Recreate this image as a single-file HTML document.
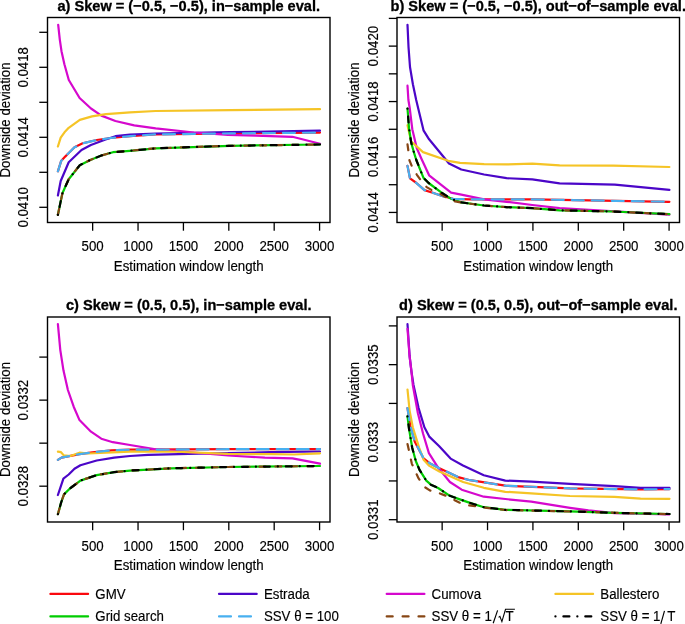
<!DOCTYPE html>
<html><head><meta charset="utf-8"><style>html,body{margin:0;padding:0;background:#fff;}svg{display:block;font-family:"Liberation Sans", sans-serif;will-change:transform;}</style></head>
<body><svg width="685" height="624" viewBox="0 0 685 624"><style>text{stroke:#000;stroke-width:0.15px;}</style>
<rect width="685" height="624" fill="#fff"/>
<rect x="47.5" y="17.5" width="282.5" height="205.0" fill="none" stroke="#000" stroke-width="1.4"/>
<line x1="92.65" y1="222.5" x2="92.65" y2="230.7" stroke="#000" stroke-width="1.3"/>
<text transform="translate(92.65,251.0) scale(1,1.04)" font-size="13.3" text-anchor="middle">500</text>
<line x1="138.04" y1="222.5" x2="138.04" y2="230.7" stroke="#000" stroke-width="1.3"/>
<text transform="translate(138.04,251.0) scale(1,1.04)" font-size="13.3" text-anchor="middle">1000</text>
<line x1="183.42" y1="222.5" x2="183.42" y2="230.7" stroke="#000" stroke-width="1.3"/>
<text transform="translate(183.42,251.0) scale(1,1.04)" font-size="13.3" text-anchor="middle">1500</text>
<line x1="228.81" y1="222.5" x2="228.81" y2="230.7" stroke="#000" stroke-width="1.3"/>
<text transform="translate(228.81,251.0) scale(1,1.04)" font-size="13.3" text-anchor="middle">2000</text>
<line x1="274.19" y1="222.5" x2="274.19" y2="230.7" stroke="#000" stroke-width="1.3"/>
<text transform="translate(274.19,251.0) scale(1,1.04)" font-size="13.3" text-anchor="middle">2500</text>
<line x1="319.58" y1="222.5" x2="319.58" y2="230.7" stroke="#000" stroke-width="1.3"/>
<text transform="translate(319.58,251.0) scale(1,1.04)" font-size="13.3" text-anchor="middle">3000</text>
<text transform="translate(188.75,270.6) scale(1,1.04)" font-size="13.3" text-anchor="middle">Estimation window length</text>
<line x1="39.3" y1="32.30" x2="47.5" y2="32.30" stroke="#000" stroke-width="1.3"/>
<line x1="39.3" y1="67.30" x2="47.5" y2="67.30" stroke="#000" stroke-width="1.3"/>
<text transform="translate(28.30,67.30) rotate(-90) scale(1,1.04)" font-size="13.3" text-anchor="middle">0.0418</text>
<line x1="39.3" y1="102.30" x2="47.5" y2="102.30" stroke="#000" stroke-width="1.3"/>
<line x1="39.3" y1="137.30" x2="47.5" y2="137.30" stroke="#000" stroke-width="1.3"/>
<text transform="translate(28.30,137.30) rotate(-90) scale(1,1.04)" font-size="13.3" text-anchor="middle">0.0414</text>
<line x1="39.3" y1="172.30" x2="47.5" y2="172.30" stroke="#000" stroke-width="1.3"/>
<line x1="39.3" y1="207.30" x2="47.5" y2="207.30" stroke="#000" stroke-width="1.3"/>
<text transform="translate(28.30,207.30) rotate(-90) scale(1,1.04)" font-size="13.3" text-anchor="middle">0.0410</text>
<text transform="translate(9.80,120.00) rotate(-90) scale(1,1.04)" font-size="13.3" text-anchor="middle">Downside deviation</text>
<text transform="translate(188.75,10.70) scale(1,1.04)" font-size="14.6" font-weight="bold" style="stroke-width:0.3px" text-anchor="middle">a) Skew = (−0.5, −0.5), in−sample eval.</text>
<rect x="397.0" y="17.5" width="282.5" height="205.0" fill="none" stroke="#000" stroke-width="1.4"/>
<line x1="442.15" y1="222.5" x2="442.15" y2="230.7" stroke="#000" stroke-width="1.3"/>
<text transform="translate(442.15,251.0) scale(1,1.04)" font-size="13.3" text-anchor="middle">500</text>
<line x1="487.53" y1="222.5" x2="487.53" y2="230.7" stroke="#000" stroke-width="1.3"/>
<text transform="translate(487.53,251.0) scale(1,1.04)" font-size="13.3" text-anchor="middle">1000</text>
<line x1="532.92" y1="222.5" x2="532.92" y2="230.7" stroke="#000" stroke-width="1.3"/>
<text transform="translate(532.92,251.0) scale(1,1.04)" font-size="13.3" text-anchor="middle">1500</text>
<line x1="578.30" y1="222.5" x2="578.30" y2="230.7" stroke="#000" stroke-width="1.3"/>
<text transform="translate(578.30,251.0) scale(1,1.04)" font-size="13.3" text-anchor="middle">2000</text>
<line x1="623.69" y1="222.5" x2="623.69" y2="230.7" stroke="#000" stroke-width="1.3"/>
<text transform="translate(623.69,251.0) scale(1,1.04)" font-size="13.3" text-anchor="middle">2500</text>
<line x1="669.08" y1="222.5" x2="669.08" y2="230.7" stroke="#000" stroke-width="1.3"/>
<text transform="translate(669.08,251.0) scale(1,1.04)" font-size="13.3" text-anchor="middle">3000</text>
<text transform="translate(538.25,270.6) scale(1,1.04)" font-size="13.3" text-anchor="middle">Estimation window length</text>
<line x1="388.8" y1="18.40" x2="397.0" y2="18.40" stroke="#000" stroke-width="1.3"/>
<line x1="388.8" y1="46.12" x2="397.0" y2="46.12" stroke="#000" stroke-width="1.3"/>
<text transform="translate(377.80,46.12) rotate(-90) scale(1,1.04)" font-size="13.3" text-anchor="middle">0.0420</text>
<line x1="388.8" y1="73.84" x2="397.0" y2="73.84" stroke="#000" stroke-width="1.3"/>
<line x1="388.8" y1="101.56" x2="397.0" y2="101.56" stroke="#000" stroke-width="1.3"/>
<text transform="translate(377.80,101.56) rotate(-90) scale(1,1.04)" font-size="13.3" text-anchor="middle">0.0418</text>
<line x1="388.8" y1="129.28" x2="397.0" y2="129.28" stroke="#000" stroke-width="1.3"/>
<line x1="388.8" y1="157.00" x2="397.0" y2="157.00" stroke="#000" stroke-width="1.3"/>
<text transform="translate(377.80,157.00) rotate(-90) scale(1,1.04)" font-size="13.3" text-anchor="middle">0.0416</text>
<line x1="388.8" y1="184.72" x2="397.0" y2="184.72" stroke="#000" stroke-width="1.3"/>
<line x1="388.8" y1="212.44" x2="397.0" y2="212.44" stroke="#000" stroke-width="1.3"/>
<text transform="translate(377.80,212.44) rotate(-90) scale(1,1.04)" font-size="13.3" text-anchor="middle">0.0414</text>
<text transform="translate(359.30,120.00) rotate(-90) scale(1,1.04)" font-size="13.3" text-anchor="middle">Downside deviation</text>
<text transform="translate(538.25,10.70) scale(1,1.04)" font-size="14.6" font-weight="bold" style="stroke-width:0.3px" text-anchor="middle">b) Skew = (−0.5, −0.5), out−of−sample eval.</text>
<rect x="47.5" y="317.0" width="282.5" height="205.0" fill="none" stroke="#000" stroke-width="1.4"/>
<line x1="92.65" y1="522.0" x2="92.65" y2="530.2" stroke="#000" stroke-width="1.3"/>
<text transform="translate(92.65,550.5) scale(1,1.04)" font-size="13.3" text-anchor="middle">500</text>
<line x1="138.04" y1="522.0" x2="138.04" y2="530.2" stroke="#000" stroke-width="1.3"/>
<text transform="translate(138.04,550.5) scale(1,1.04)" font-size="13.3" text-anchor="middle">1000</text>
<line x1="183.42" y1="522.0" x2="183.42" y2="530.2" stroke="#000" stroke-width="1.3"/>
<text transform="translate(183.42,550.5) scale(1,1.04)" font-size="13.3" text-anchor="middle">1500</text>
<line x1="228.81" y1="522.0" x2="228.81" y2="530.2" stroke="#000" stroke-width="1.3"/>
<text transform="translate(228.81,550.5) scale(1,1.04)" font-size="13.3" text-anchor="middle">2000</text>
<line x1="274.19" y1="522.0" x2="274.19" y2="530.2" stroke="#000" stroke-width="1.3"/>
<text transform="translate(274.19,550.5) scale(1,1.04)" font-size="13.3" text-anchor="middle">2500</text>
<line x1="319.58" y1="522.0" x2="319.58" y2="530.2" stroke="#000" stroke-width="1.3"/>
<text transform="translate(319.58,550.5) scale(1,1.04)" font-size="13.3" text-anchor="middle">3000</text>
<text transform="translate(188.75,570.1) scale(1,1.04)" font-size="13.3" text-anchor="middle">Estimation window length</text>
<line x1="39.3" y1="357.10" x2="47.5" y2="357.10" stroke="#000" stroke-width="1.3"/>
<line x1="39.3" y1="400.13" x2="47.5" y2="400.13" stroke="#000" stroke-width="1.3"/>
<text transform="translate(28.30,400.13) rotate(-90) scale(1,1.04)" font-size="13.3" text-anchor="middle">0.0332</text>
<line x1="39.3" y1="443.16" x2="47.5" y2="443.16" stroke="#000" stroke-width="1.3"/>
<line x1="39.3" y1="486.19" x2="47.5" y2="486.19" stroke="#000" stroke-width="1.3"/>
<text transform="translate(28.30,486.19) rotate(-90) scale(1,1.04)" font-size="13.3" text-anchor="middle">0.0328</text>
<text transform="translate(9.80,419.50) rotate(-90) scale(1,1.04)" font-size="13.3" text-anchor="middle">Downside deviation</text>
<text transform="translate(188.75,310.20) scale(1,1.04)" font-size="14.6" font-weight="bold" style="stroke-width:0.3px" text-anchor="middle">c) Skew = (0.5, 0.5), in−sample eval.</text>
<rect x="397.0" y="317.0" width="282.5" height="205.0" fill="none" stroke="#000" stroke-width="1.4"/>
<line x1="442.15" y1="522.0" x2="442.15" y2="530.2" stroke="#000" stroke-width="1.3"/>
<text transform="translate(442.15,550.5) scale(1,1.04)" font-size="13.3" text-anchor="middle">500</text>
<line x1="487.53" y1="522.0" x2="487.53" y2="530.2" stroke="#000" stroke-width="1.3"/>
<text transform="translate(487.53,550.5) scale(1,1.04)" font-size="13.3" text-anchor="middle">1000</text>
<line x1="532.92" y1="522.0" x2="532.92" y2="530.2" stroke="#000" stroke-width="1.3"/>
<text transform="translate(532.92,550.5) scale(1,1.04)" font-size="13.3" text-anchor="middle">1500</text>
<line x1="578.30" y1="522.0" x2="578.30" y2="530.2" stroke="#000" stroke-width="1.3"/>
<text transform="translate(578.30,550.5) scale(1,1.04)" font-size="13.3" text-anchor="middle">2000</text>
<line x1="623.69" y1="522.0" x2="623.69" y2="530.2" stroke="#000" stroke-width="1.3"/>
<text transform="translate(623.69,550.5) scale(1,1.04)" font-size="13.3" text-anchor="middle">2500</text>
<line x1="669.08" y1="522.0" x2="669.08" y2="530.2" stroke="#000" stroke-width="1.3"/>
<text transform="translate(669.08,550.5) scale(1,1.04)" font-size="13.3" text-anchor="middle">3000</text>
<text transform="translate(538.25,570.1) scale(1,1.04)" font-size="13.3" text-anchor="middle">Estimation window length</text>
<line x1="388.8" y1="325.90" x2="397.0" y2="325.90" stroke="#000" stroke-width="1.3"/>
<line x1="388.8" y1="364.66" x2="397.0" y2="364.66" stroke="#000" stroke-width="1.3"/>
<text transform="translate(377.80,364.66) rotate(-90) scale(1,1.04)" font-size="13.3" text-anchor="middle">0.0335</text>
<line x1="388.8" y1="403.42" x2="397.0" y2="403.42" stroke="#000" stroke-width="1.3"/>
<line x1="388.8" y1="442.18" x2="397.0" y2="442.18" stroke="#000" stroke-width="1.3"/>
<text transform="translate(377.80,442.18) rotate(-90) scale(1,1.04)" font-size="13.3" text-anchor="middle">0.0333</text>
<line x1="388.8" y1="480.94" x2="397.0" y2="480.94" stroke="#000" stroke-width="1.3"/>
<line x1="388.8" y1="519.70" x2="397.0" y2="519.70" stroke="#000" stroke-width="1.3"/>
<text transform="translate(377.80,519.70) rotate(-90) scale(1,1.04)" font-size="13.3" text-anchor="middle">0.0331</text>
<text transform="translate(359.30,419.50) rotate(-90) scale(1,1.04)" font-size="13.3" text-anchor="middle">Downside deviation</text>
<text transform="translate(538.25,310.20) scale(1,1.04)" font-size="14.6" font-weight="bold" style="stroke-width:0.3px" text-anchor="middle">d) Skew = (0.5, 0.5), out−of−sample eval.</text>
<clipPath id="clipa"><rect x="47.5" y="17.5" width="282.5" height="205.0"/></clipPath>
<polyline points="57.90,171.30 61.10,161.10 65.20,156.60 67.50,154.30 74.50,147.30 82.70,143.30 96.70,140.00 110.70,138.00 130.00,136.10 155.70,134.40 230.00,133.40 320.00,132.60" fill="none" stroke="#fa080e" stroke-width="2.2" stroke-linejoin="round" stroke-linecap="round"/>
<polyline points="57.90,195.50 60.70,181.00 68.70,162.30 81.50,150.00 90.90,145.00 104.90,139.70 115.40,136.20 130.00,134.60 155.70,133.50 230.00,132.20 320.00,130.70" fill="none" stroke="#4b06c8" stroke-width="2.2" stroke-linejoin="round" stroke-linecap="round"/>
<polyline points="58.20,24.90 59.80,39.60 61.50,51.20 64.40,64.20 68.80,80.00 79.60,98.00 91.00,108.50 101.40,115.60 115.40,121.00 134.20,125.40 155.70,128.40 194.00,132.50 228.00,134.80 255.70,135.60 292.40,136.80 320.00,143.70" fill="none" stroke="#d508cd" stroke-width="2.2" stroke-linejoin="round" stroke-linecap="round"/>
<polyline points="57.90,146.50 60.70,137.60 64.50,132.30 68.70,127.80 79.80,119.90 92.00,116.40 106.00,114.20 130.00,112.40 155.70,111.00 230.00,110.20 320.00,109.20" fill="none" stroke="#f5c426" stroke-width="2.2" stroke-linejoin="round" stroke-linecap="round"/>
<polyline points="57.90,214.80 60.70,201.40 62.50,193.00 68.70,179.20 79.80,165.20 90.30,159.90 101.40,155.50 108.40,153.50 113.00,152.20 130.00,150.80 155.70,148.30 230.00,145.80 320.00,144.50" fill="none" stroke="#00cd00" stroke-width="2.2" stroke-linejoin="round" stroke-linecap="round"/>
<polyline points="57.90,171.30 61.10,161.10 65.20,156.60 67.50,154.30 74.50,147.30 82.70,143.30 96.70,140.00 110.70,138.00 130.00,136.10 155.70,134.40 230.00,133.40 320.00,132.60" fill="none" stroke="#48b0f0" stroke-width="2.2" stroke-linejoin="round" stroke-linecap="round" stroke-dasharray="12 8"/>
<polyline points="57.90,214.80 60.70,201.40 62.50,193.00 68.70,179.20 79.80,165.20 90.30,159.90 101.40,155.50 108.40,153.50 113.00,152.20 130.00,150.80 155.70,148.30 230.00,145.80 320.00,144.50" fill="none" stroke="#874614" stroke-width="2.2" stroke-linejoin="round" stroke-linecap="round" stroke-dasharray="6 9.9"/>
<polyline points="57.90,214.80 60.70,201.40 62.50,193.00 68.70,179.20 79.80,165.20 90.30,159.90 101.40,155.50 108.40,153.50 113.00,152.20 130.00,150.80 155.70,148.30 230.00,145.80 320.00,144.50" fill="none" stroke="#000000" stroke-width="2.2" stroke-linejoin="round" stroke-linecap="round" stroke-dasharray="0.1 7.9 6 7.9"/>
<clipPath id="clipb"><rect x="397.0" y="17.5" width="282.5" height="205.0"/></clipPath>
<polyline points="407.50,165.90 410.00,178.40 415.80,182.50 424.50,190.10 432.70,192.70 442.90,196.30 453.10,198.80 470.00,199.30 532.30,199.40 589.10,200.40 669.40,201.80" fill="none" stroke="#fa080e" stroke-width="2.2" stroke-linejoin="round" stroke-linecap="round"/>
<polyline points="407.50,24.90 408.50,46.80 410.00,67.00 412.90,84.30 416.20,100.00 418.00,107.40 423.50,130.30 429.10,139.30 449.00,163.50 461.30,169.50 484.10,174.50 506.60,178.20 532.30,179.30 559.60,183.40 614.80,184.60 669.40,189.80" fill="none" stroke="#4b06c8" stroke-width="2.2" stroke-linejoin="round" stroke-linecap="round"/>
<polyline points="407.50,85.70 408.40,100.00 409.70,108.00 412.30,129.20 416.80,148.20 422.00,160.00 429.10,175.30 451.10,192.70 461.30,194.70 484.10,199.40 506.60,201.80 532.30,205.00 559.60,208.20 589.10,209.80 669.40,214.70" fill="none" stroke="#d508cd" stroke-width="2.2" stroke-linejoin="round" stroke-linecap="round"/>
<polyline points="407.50,125.20 411.20,141.50 423.00,152.10 448.20,160.80 460.00,162.80 484.10,164.10 506.60,164.40 532.30,163.60 559.60,165.40 613.20,165.70 669.40,167.00" fill="none" stroke="#f5c426" stroke-width="2.2" stroke-linejoin="round" stroke-linecap="round"/>
<polyline points="407.50,108.50 409.00,128.00 411.20,142.60 414.00,152.70 416.30,160.00 419.50,168.00 423.50,177.90 428.60,183.00 440.90,192.20 451.10,198.80 461.30,202.40 484.10,205.50 506.60,207.10 532.30,208.20 559.60,210.30 613.20,211.50 669.40,214.20" fill="none" stroke="#00cd00" stroke-width="2.2" stroke-linejoin="round" stroke-linecap="round"/>
<polyline points="407.50,165.90 410.00,178.40 415.80,182.50 424.50,190.10 432.70,192.70 442.90,196.30 453.10,198.80 470.00,199.30 532.30,199.40 589.10,200.40 669.40,201.80" fill="none" stroke="#48b0f0" stroke-width="2.2" stroke-linejoin="round" stroke-linecap="round" stroke-dasharray="12 8"/>
<polyline points="407.50,144.30 408.40,151.00 409.50,160.50 411.80,166.10 416.90,174.80 420.90,180.40 426.60,187.10 432.70,190.60 440.90,194.20 447.00,197.80 455.20,201.40 461.30,202.60 484.10,205.50 506.60,207.10 532.30,208.20 559.60,210.30 613.20,211.50 669.40,214.20" fill="none" stroke="#874614" stroke-width="2.2" stroke-linejoin="round" stroke-linecap="round" stroke-dasharray="6 9.9"/>
<polyline points="407.50,108.50 409.00,128.00 411.20,142.60 414.00,152.70 416.30,160.00 419.50,168.00 423.50,177.90 428.60,183.00 440.90,192.20 451.10,198.80 461.30,202.40 484.10,205.50 506.60,207.10 532.30,208.20 559.60,210.30 613.20,211.50 669.40,214.20" fill="none" stroke="#000000" stroke-width="2.2" stroke-linejoin="round" stroke-linecap="round" stroke-dasharray="0.1 7.9 6 7.9"/>
<clipPath id="clipc"><rect x="47.5" y="317.0" width="282.5" height="205.0"/></clipPath>
<polyline points="57.90,459.90 61.50,457.60 70.50,455.80 79.50,454.10 92.30,452.40 111.50,450.30 130.00,449.70 228.00,449.20 320.00,449.20" fill="none" stroke="#fa080e" stroke-width="2.2" stroke-linejoin="round" stroke-linecap="round"/>
<polyline points="57.90,495.00 63.40,478.60 68.70,474.50 74.50,468.70 80.40,465.20 96.70,460.50 114.20,457.60 130.00,456.00 148.00,454.80 178.70,454.20 228.00,453.00 271.00,452.20 320.00,451.50" fill="none" stroke="#4b06c8" stroke-width="2.2" stroke-linejoin="round" stroke-linecap="round"/>
<polyline points="57.90,324.20 60.30,350.10 63.50,370.60 67.90,390.00 73.70,406.70 79.50,420.10 91.00,431.70 101.30,438.70 112.80,442.20 130.00,445.00 154.10,449.20 228.00,455.50 264.90,457.60 292.50,458.40 320.00,463.70" fill="none" stroke="#d508cd" stroke-width="2.2" stroke-linejoin="round" stroke-linecap="round"/>
<polyline points="57.90,451.60 61.00,452.20 63.80,455.40 70.50,456.00 79.40,452.70 88.50,453.50 130.00,451.70 171.00,451.50 228.00,453.80 271.00,454.20 294.00,454.50 320.00,453.30" fill="none" stroke="#f5c426" stroke-width="2.2" stroke-linejoin="round" stroke-linecap="round"/>
<polyline points="57.90,514.20 61.10,502.60 64.00,494.40 69.90,488.50 80.40,480.60 96.70,475.10 114.20,472.20 130.00,470.60 171.00,468.30 228.00,467.00 320.00,466.00" fill="none" stroke="#00cd00" stroke-width="2.2" stroke-linejoin="round" stroke-linecap="round"/>
<polyline points="57.90,459.90 61.50,457.60 70.50,455.80 79.50,454.10 92.30,452.40 111.50,450.30 130.00,449.70 228.00,449.20 320.00,449.20" fill="none" stroke="#48b0f0" stroke-width="2.2" stroke-linejoin="round" stroke-linecap="round" stroke-dasharray="12 8"/>
<polyline points="57.90,514.20 61.10,502.60 64.00,494.40 69.90,488.50 80.40,480.60 96.70,475.10 114.20,472.20 130.00,470.60 171.00,468.30 228.00,467.00 320.00,466.00" fill="none" stroke="#874614" stroke-width="2.2" stroke-linejoin="round" stroke-linecap="round" stroke-dasharray="6 9.9"/>
<polyline points="57.90,514.20 61.10,502.60 64.00,494.40 69.90,488.50 80.40,480.60 96.70,475.10 114.20,472.20 130.00,470.60 171.00,468.30 228.00,467.00 320.00,466.00" fill="none" stroke="#000000" stroke-width="2.2" stroke-linejoin="round" stroke-linecap="round" stroke-dasharray="0.1 7.9 6 7.9"/>
<clipPath id="clipd"><rect x="397.0" y="317.0" width="282.5" height="205.0"/></clipPath>
<polyline points="407.50,408.10 410.30,426.00 414.70,441.40 423.60,458.40 430.20,463.60 439.40,468.20 459.10,477.40 470.00,480.20 505.30,485.70 570.00,488.40 640.50,489.40 669.50,489.10" fill="none" stroke="#fa080e" stroke-width="2.2" stroke-linejoin="round" stroke-linecap="round"/>
<polyline points="407.50,324.20 409.60,356.00 411.50,371.80 413.50,385.00 418.60,408.10 424.40,427.30 429.50,436.90 439.00,446.00 450.60,458.60 463.00,465.50 483.80,475.30 505.30,480.60 531.30,481.70 570.00,483.80 614.50,486.10 640.50,487.90 669.50,487.90" fill="none" stroke="#4b06c8" stroke-width="2.2" stroke-linejoin="round" stroke-linecap="round"/>
<polyline points="407.50,328.90 409.60,356.50 411.50,371.80 412.80,385.00 417.90,413.20 423.10,433.70 428.90,453.10 438.10,467.60 449.90,482.00 461.70,489.70 483.80,496.70 505.30,499.00 531.30,501.70 570.00,507.80 588.40,510.30 614.50,513.20 669.50,514.30" fill="none" stroke="#d508cd" stroke-width="2.2" stroke-linejoin="round" stroke-linecap="round"/>
<polyline points="407.50,389.50 409.60,410.60 412.80,427.30 419.20,447.80 423.60,459.70 428.90,465.60 439.40,471.50 463.10,482.00 483.80,487.80 505.30,491.80 531.30,493.40 570.00,496.00 614.50,496.80 640.50,498.60 669.50,498.80" fill="none" stroke="#f5c426" stroke-width="2.2" stroke-linejoin="round" stroke-linecap="round"/>
<polyline points="407.50,416.40 409.00,428.60 412.20,447.80 415.80,461.00 419.70,470.20 426.30,480.70 430.90,484.70 438.10,488.00 449.90,495.80 459.10,499.10 470.00,502.90 483.80,507.20 505.30,509.80 570.00,511.40 614.50,512.90 669.50,514.00" fill="none" stroke="#00cd00" stroke-width="2.2" stroke-linejoin="round" stroke-linecap="round"/>
<polyline points="407.50,408.10 410.30,426.00 414.70,441.40 423.60,458.40 430.20,463.60 439.40,468.20 459.10,477.40 470.00,480.20 505.30,485.70 570.00,488.40 640.50,489.40 669.50,489.10" fill="none" stroke="#48b0f0" stroke-width="2.2" stroke-linejoin="round" stroke-linecap="round" stroke-dasharray="12 8"/>
<polyline points="407.50,444.00 411.80,463.60 418.40,478.10 425.00,487.30 430.20,490.60 439.40,493.20 446.00,495.80 455.20,500.40 463.10,504.40 483.80,507.50 505.30,510.00 570.00,511.50 669.50,514.20" fill="none" stroke="#874614" stroke-width="2.2" stroke-linejoin="round" stroke-linecap="round" stroke-dasharray="6 9.9"/>
<polyline points="407.50,416.40 409.00,428.60 412.20,447.80 415.80,461.00 419.70,470.20 426.30,480.70 430.90,484.70 438.10,488.00 449.90,495.80 459.10,499.10 470.00,502.90 483.80,507.20 505.30,509.80 570.00,511.40 614.50,512.90 669.50,514.00" fill="none" stroke="#000000" stroke-width="2.2" stroke-linejoin="round" stroke-linecap="round" stroke-dasharray="0.1 7.9 6 7.9"/>
<line x1="50.4" y1="593.9" x2="88.1" y2="593.9" stroke="#fa080e" stroke-width="2.2" stroke-linecap="round"/>
<text transform="translate(95.3,598.9) scale(1,1.04)" font-size="13.3">GMV</text>
<line x1="219.0" y1="593.9" x2="256.7" y2="593.9" stroke="#4b06c8" stroke-width="2.2" stroke-linecap="round"/>
<text transform="translate(263.9,598.9) scale(1,1.04)" font-size="13.3">Estrada</text>
<line x1="386.70000000000005" y1="593.9" x2="424.40000000000003" y2="593.9" stroke="#d508cd" stroke-width="2.2" stroke-linecap="round"/>
<text transform="translate(431.6,598.9) scale(1,1.04)" font-size="13.3">Cumova</text>
<line x1="555.4" y1="593.9" x2="593.1" y2="593.9" stroke="#f5c426" stroke-width="2.2" stroke-linecap="round"/>
<text transform="translate(600.3,598.9) scale(1,1.04)" font-size="13.3">Ballestero</text>
<line x1="50.4" y1="616.4" x2="88.1" y2="616.4" stroke="#00cd00" stroke-width="2.2" stroke-linecap="round"/>
<text transform="translate(95.3,621.4) scale(1,1.04)" font-size="13.3">Grid search</text>
<line x1="219.0" y1="616.4" x2="256.7" y2="616.4" stroke="#48b0f0" stroke-width="2.2" stroke-linecap="round" stroke-dasharray="12 8"/>
<text transform="translate(263.9,621.4) scale(1,1.04)" font-size="13.3">SSV θ = 100</text>
<line x1="386.70000000000005" y1="616.4" x2="424.40000000000003" y2="616.4" stroke="#874614" stroke-width="2.2" stroke-linecap="round" stroke-dasharray="6 9.9"/>
<text transform="translate(431.6,621.4) scale(1,1.04)" font-size="13.3">SSV θ = 1</text>
<line x1="497.6" y1="610.4" x2="493.2" y2="623.3" stroke="#000" stroke-width="1.15"/>
<path d="M498.6,617.4 L499.9,616.4 L501.9,621.6 L505.5,609.3 L514.9,609.3" fill="none" stroke="#000" stroke-width="1.1"/>
<text transform="translate(505.6,621.4) scale(1,1.04)" font-size="13.3">T</text>
<line x1="555.4" y1="616.4" x2="593.1" y2="616.4" stroke="#000000" stroke-width="2.2" stroke-linecap="round" stroke-dasharray="0.1 7.9 6 7.9"/>
<text transform="translate(600.3,621.4) scale(1,1.04)" font-size="13.3">SSV θ = 1</text>
<line x1="664.5" y1="610.8" x2="660.8" y2="623.9" stroke="#000" stroke-width="1.15"/>
<text transform="translate(667.3,621.4) scale(1,1.04)" font-size="13.3">T</text>
</svg></body></html>
